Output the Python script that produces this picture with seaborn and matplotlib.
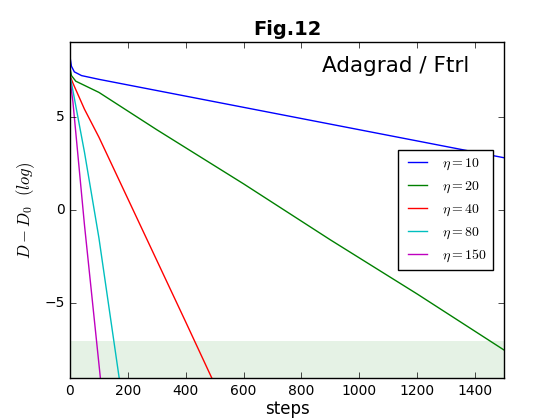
import matplotlib
matplotlib.use("Agg")
import matplotlib.pyplot as plt
import seaborn as sns
import pandas as pd

plt.style.use("classic")

# values
steps_10 = [0, 5, 15, 40, 100, 300, 600, 900, 1200, 1500]
loss_10 = [8.2, 7.7, 7.4, 7.2, 7.0, 6.4, 5.5, 4.6, 3.7, 2.8]
steps_20 = [0, 5, 20, 60, 100, 300, 600, 900, 1200, 1500]
loss_20 = [7.6, 7.2, 6.9, 6.6, 6.3, 4.3, 1.4, -1.6, -4.5, -7.5]
steps_40 = [0, 10, 50, 100, 200, 300, 400, 490]
loss_40 = [7.2, 6.8, 5.4, 3.9, 0.6, -2.7, -6.0, -9.0]
steps_80 = [0, 10, 50, 100, 170]
loss_80 = [7.2, 6.4, 3.1, -1.5, -9.0]
steps_150 = [0, 10, 50, 105]
loss_150 = [7.0, 5.8, -0.8, -9.0]

series = [
    ("$\\eta=10$", steps_10, loss_10, "b"),
    ("$\\eta=20$", steps_20, loss_20, "g"),
    ("$\\eta=40$", steps_40, loss_40, "r"),
    ("$\\eta=80$", steps_80, loss_80, "c"),
    ("$\\eta=150$", steps_150, loss_150, "m"),
]

fig, ax = plt.subplots(figsize=(5.6, 4.2), dpi=100)
for name, xs, ys, col in series:
    df = pd.DataFrame({"steps": xs, "loss": ys})
    sns.lineplot(data=df, x="steps", y="loss", ax=ax, color=col, label=name, lw=1)

ax.axhspan(-9, -7, color="green", alpha=0.1, lw=0)
ax.set_xlim(0, 1500)
ax.set_ylim(-9, 9)
ax.set_yticks([-5, 0, 5])
ax.set_xticks(range(0, 1600, 200))
ax.tick_params(labelsize=10)
ax.set_xlabel("steps", fontsize=12, labelpad=2)
ax.set_ylabel("$D - D_0\\ \\ (log)$", fontsize=12)
ax.set_title("Fig.12", fontsize=14, fontweight="bold")
ax.text(0.92, 0.91, "Adagrad / Ftrl", transform=ax.transAxes, ha="right", fontsize=15.5)
ax.legend(loc="center right", fontsize=10, bbox_to_anchor=(0.99, 0.5))
fig.subplots_adjust(left=0.125, right=0.9, top=0.9, bottom=0.1)
fig.savefig("out.png", dpi=100)
